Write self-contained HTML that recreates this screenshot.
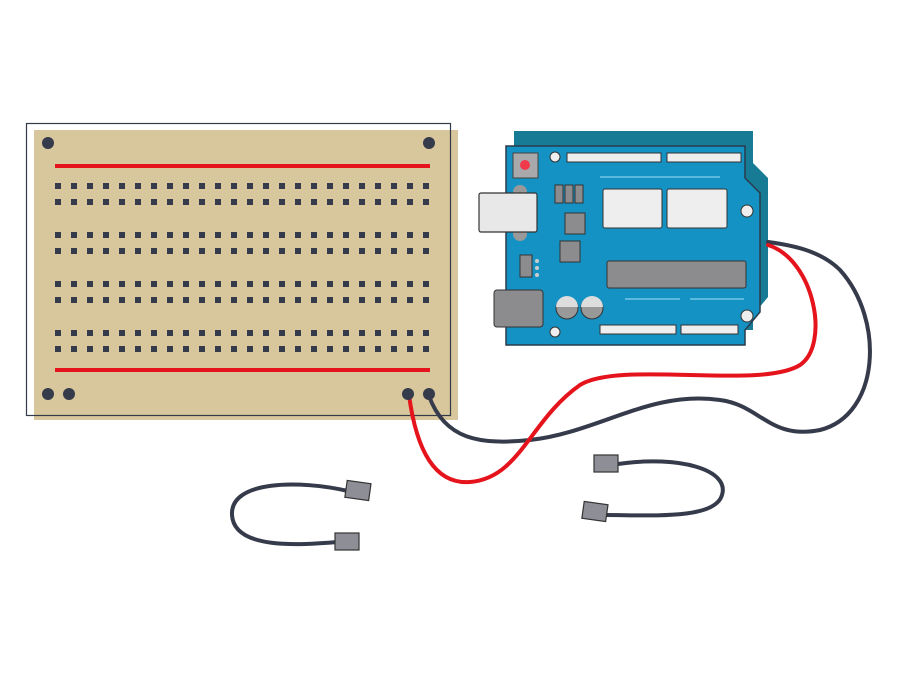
<!DOCTYPE html><html><head><style>html,body{margin:0;padding:0;background:#fff}svg{display:block}</style></head><body>
<svg width="899" height="674" viewBox="0 0 899 674" xmlns="http://www.w3.org/2000/svg">
<rect x="34" y="130" width="424" height="290" fill="#d8c69c"/>
<rect x="26.5" y="123.5" width="424" height="292" fill="none" stroke="#333a48" stroke-width="1.2"/>
<line x1="55" y1="166" x2="430" y2="166" stroke="#e5131b" stroke-width="4"/>
<line x1="55" y1="370" x2="430" y2="370" stroke="#e5131b" stroke-width="4"/>
<defs><pattern id="d" x="55" y="0" width="16" height="674" patternUnits="userSpaceOnUse">
<rect x="0" y="183" width="6" height="6" fill="#363b4b"/><rect x="0" y="199" width="6" height="6" fill="#363b4b"/>
<rect x="0" y="232" width="6" height="6" fill="#363b4b"/><rect x="0" y="248" width="6" height="6" fill="#363b4b"/>
<rect x="0" y="281" width="6" height="6" fill="#363b4b"/><rect x="0" y="297" width="6" height="6" fill="#363b4b"/>
<rect x="0" y="330" width="6" height="6" fill="#363b4b"/><rect x="0" y="346" width="6" height="6" fill="#363b4b"/>
</pattern></defs>
<rect x="55" y="180" width="378" height="172" fill="url(#d)"/>
<g fill="#363b4b"><circle cx="48" cy="143" r="6"/><circle cx="429" cy="143" r="6"/><circle cx="48" cy="394" r="6"/><circle cx="69" cy="394" r="6"/></g>
<!-- arduino -->
<path d="M514,131 H753 V163 L768,178 V297 L753,315 V330 H514 Z" fill="#177b96"/>
<path d="M506,146 H745 V178 L760,193 V312 L745,330 V345 H506 Z" fill="#1592c4" stroke="#2a3a4a" stroke-width="1.5"/>
<rect x="513" y="153" width="25" height="25" fill="#a9a9ab" stroke="#444" stroke-width="1"/>
<circle cx="525" cy="165" r="5" fill="#ee3a4a"/>
<g fill="#eee" stroke="#333" stroke-width="1"><circle cx="555" cy="157" r="5"/><circle cx="747" cy="211" r="6"/><circle cx="747" cy="316" r="6"/><circle cx="555" cy="332" r="5"/>
<rect x="567" y="153" width="94" height="9"/><rect x="667" y="153" width="74" height="9"/>
<rect x="600" y="325" width="76" height="9"/><rect x="681" y="325" width="57" height="9"/>
<rect x="603" y="189" width="59" height="39" rx="2"/><rect x="667" y="189" width="60" height="39" rx="2"/></g>
<line x1="600" y1="177" x2="720" y2="177" stroke="#9fe0f5" stroke-width="1"/>
<line x1="625" y1="299" x2="680" y2="299" stroke="#9fe0f5" stroke-width="1"/>
<line x1="690" y1="299" x2="744" y2="299" stroke="#9fe0f5" stroke-width="1"/>
<circle cx="520" cy="192" r="7" fill="#999"/><circle cx="520" cy="234" r="7" fill="#999"/>
<rect x="479" y="193" width="58" height="39" rx="2" fill="#e8e8e8" stroke="#333" stroke-width="1.2"/>
<g fill="#8c8c8e" stroke="#333" stroke-width="1"><rect x="555" y="185" width="8" height="18"/><rect x="565" y="185" width="8" height="18"/><rect x="575" y="185" width="8" height="18"/>
<rect x="565" y="213" width="20" height="21"/><rect x="560" y="241" width="20" height="21"/>
<rect x="607" y="261" width="139" height="27" rx="2"/>
<rect x="494" y="290" width="49" height="37" rx="3"/>
<rect x="520" y="255" width="12" height="22"/></g>
<g fill="#ccc"><circle cx="537" cy="261" r="2"/><circle cx="537" cy="268" r="2"/><circle cx="537" cy="275" r="2"/></g>
<g stroke="#333" stroke-width="1"><circle cx="567" cy="308" r="11" fill="#999"/><circle cx="592" cy="308" r="11" fill="#999"/></g>
<path d="M556,307 A11,11 0 0 1 578,307 Z" fill="#ddd"/><path d="M581,307 A11,11 0 0 1 603,307 Z" fill="#ddd"/>
<!-- wires -->
<g fill="none" stroke-width="4" stroke-linecap="round">
<path d="M429,396 C445,440 480,445 530,440 C600,432 650,390 720,400 C760,405 770,440 820,430 C880,415 885,320 840,270 C820,250 790,245 768,242" stroke="#363b4b"/>
<path d="M409,395 C415,440 430,485 470,482 C520,478 530,420 580,385 C620,360 760,390 800,365 C830,345 815,260 768,245" stroke="#e5131b"/>
<path d="M348,491 C300,480 230,480 232,515 C234,550 300,545 338,542" stroke="#363b4b"/>
<path d="M618,464 C680,455 730,470 722,495 C715,520 650,515 606,515" stroke="#363b4b"/>
</g>
<g fill="#363b4b"><circle cx="408" cy="394" r="6"/><circle cx="429" cy="394" r="6"/></g>
<g fill="#8e8f96" stroke="#333" stroke-width="1.2">
<rect x="346" y="482" width="24" height="17" transform="rotate(8 358 490)"/>
<rect x="335" y="533" width="24" height="17"/>
<rect x="594" y="455" width="24" height="17"/>
<rect x="583" y="503" width="24" height="17" transform="rotate(8 595 511)"/>
</g>
</svg>
</body></html>
